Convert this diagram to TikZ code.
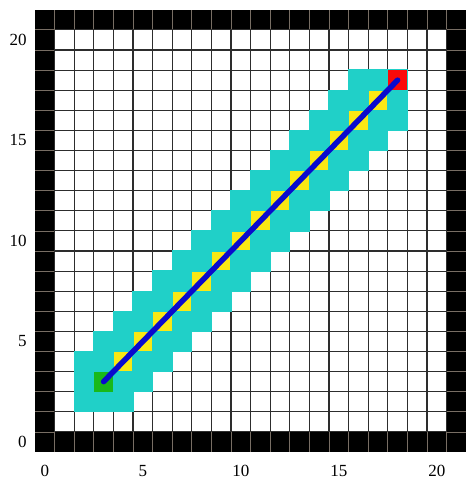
\documentclass[tikz,border=0pt]{standalone}
\usepackage{fontspec}
\setmainfont{Liberation Serif}
\definecolor{cyanfill}{RGB}{32,208,200}
\definecolor{pathyellow}{RGB}{250,232,20}
\definecolor{startgreen}{RGB}{25,185,25}
\definecolor{goalred}{RGB}{250,10,10}
\definecolor{pathblue}{RGB}{10,10,205}
\definecolor{gridline}{RGB}{45,45,45}
\definecolor{bordergrid}{RGB}{120,110,100}
\begin{document}
\begin{tikzpicture}[x=19.6pt,y=20.1pt,
  cellfill/.style={fill=#1,draw=#1,line width=1.3pt},
  gridln/.style={gridline,line width=1.1pt},
  bordln/.style={bordergrid,line width=0.8pt},
  pathline/.style={pathblue,line width=5.5pt,line cap=round},
  lbl/.style={font=\fontsize{17}{20}\selectfont,inner sep=0pt}]
\useasboundingbox (-1.786,-1.741) rectangle (22.398,22.488);
% frame
\fill[black] (0,0) rectangle (22,22);
\fill[white] (1,1) rectangle (21,21);
\foreach \i in {1,...,21} {
  \draw[bordln] (\i,0) -- (\i,1);
  \draw[bordln] (\i,21) -- (\i,22);
  \draw[bordln] (0,\i) -- (1,\i);
  \draw[bordln] (21,\i) -- (22,\i);
}
% interior grid
\foreach \i in {1,...,21} {
  \draw[gridln] (\i,1) -- (\i,21);
  \draw[gridln] (1,\i) -- (21,\i);
}
% explored band
\foreach \c in {2,...,18} {
  \foreach \r in {2,...,18} {
    \pgfmathtruncatemacro\dd{abs(\c-\r)}
    \ifnum\dd<3
      \filldraw[cellfill=cyanfill] (\c,\r) rectangle ++(1,1);
    \fi
  }
}
% path cells
\foreach \k in {4,...,17} {
  \fill[pathyellow] (\k+0.03,\k+0.03) rectangle (\k+0.97,\k+0.97);
}
\fill[startgreen] (3,3) rectangle (4,4);
\fill[goalred] (18,18) rectangle (19,19);
\coordinate (start) at (3.5,3.5);
\coordinate (goal) at (18.5,18.5);
\draw[pathline] (start) -- (goal);
% axis labels
\foreach \v in {0,5,10,15,20} {
  \node[lbl] (xl\v) at (\v+0.5,-0.95) {\v};
  \node[lbl,anchor=east] (yl\v) at (-0.42,\v+0.5) {\v};
}
\end{tikzpicture}
\end{document}
